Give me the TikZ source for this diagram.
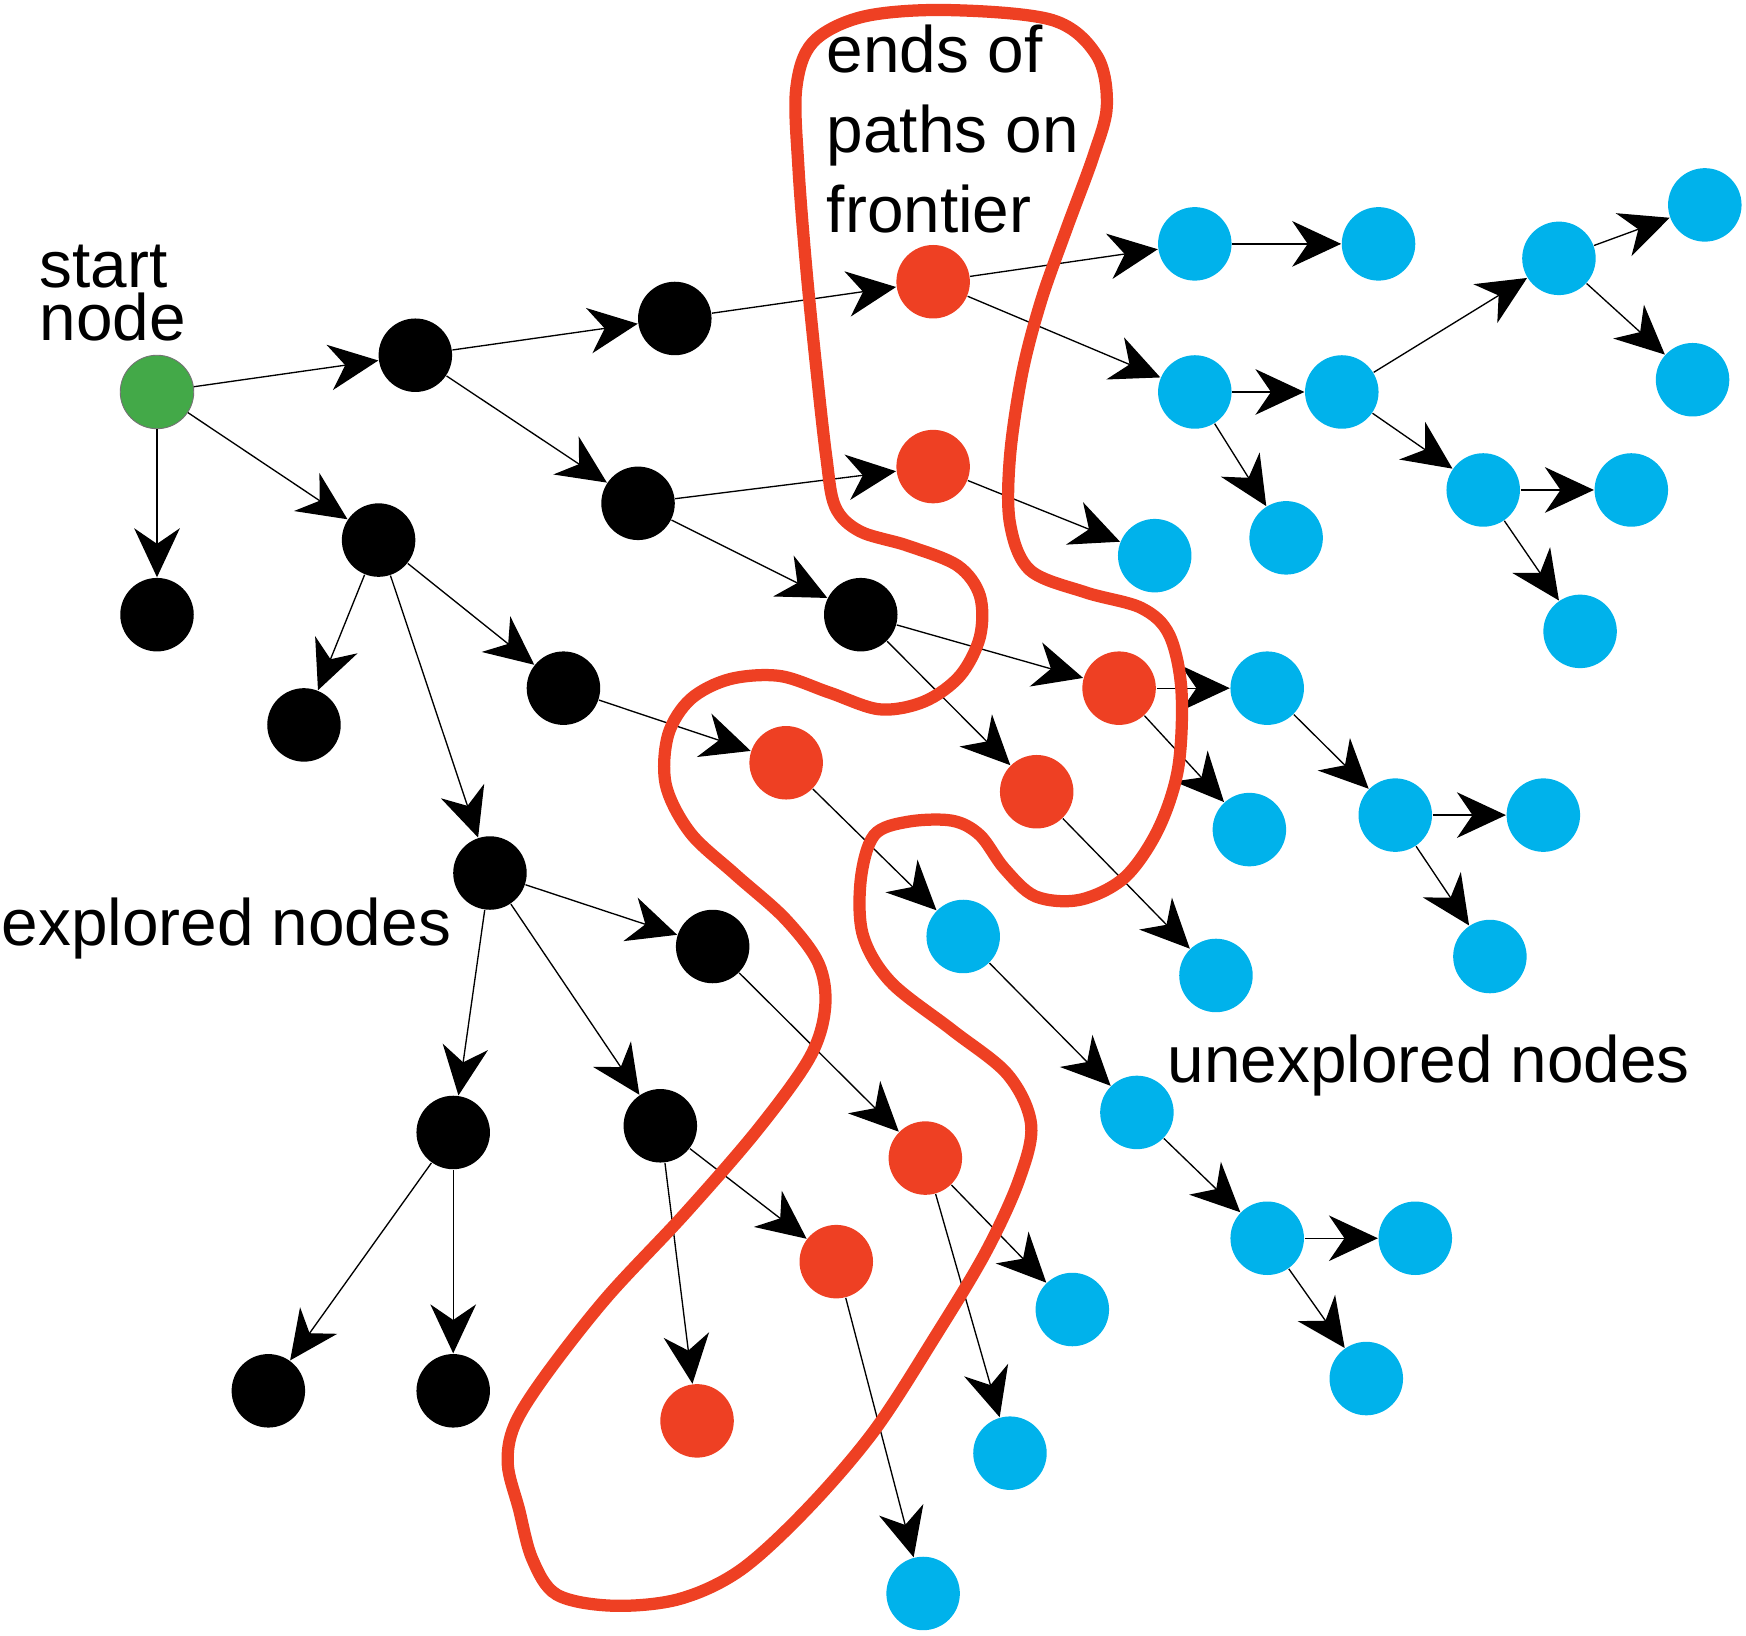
\documentclass[tikz,border=0pt]{standalone}
\usepackage{fontspec}
\setmainfont{Liberation Sans}
\usetikzlibrary{arrows.meta}

\definecolor{startgreen}{RGB}{67,169,72}
\definecolor{frontred}{RGB}{238,64,35}
\definecolor{openblue}{RGB}{0,178,235}

\tikzset{every picture/.style={line width=0.6pt}}

\begin{document}
\begin{tikzpicture}[x=0.5pt,y=0.5pt,yscale=-1,
  dot/.style={circle,minimum size=33pt,inner sep=0pt,draw=none},
  startdot/.style={dot,fill=startgreen,draw=black!55,line width=0.4pt},
  donedot/.style={dot,fill=black},
  enddot/.style={dot,fill=frontred},
  opendot/.style={dot,fill=openblue},
  link/.style={-{Stealth[length=22pt,width=20.5pt,inset=7pt]}},
  frontier/.style={draw=frontred,line width=5.5pt},
  lbl/.style={inner sep=0pt,align=left,font=\fontsize{29.5}{24}\selectfont}]
\useasboundingbox (0,0) rectangle (1568,1469);

%Shape: Circle  start node
\node[startdot] (s) at (141,352) {};
%Shape: Circle  explored nodes
\node[donedot] (e1) at (373,319) {};
\node[donedot] (e2) at (606,286) {};
\node[donedot] (e3) at (141,552) {};
\node[donedot] (e4) at (340,485) {};
\node[donedot] (e5) at (573,452) {};
\node[donedot] (e6) at (273,651) {};
\node[donedot] (e7) at (506,618) {};
\node[donedot] (e8) at (773,552) {};
\node[donedot] (e9) at (440,784) {};
\node[donedot] (e10) at (640,850) {};
\node[donedot] (e11) at (407,1017) {};
\node[donedot] (e12) at (593,1011) {};
\node[donedot] (e13) at (241,1249) {};
\node[donedot] (e14) at (407,1249) {};
%Shape: Circle  ends of paths
\node[enddot] (f1) at (838,253) {};
\node[enddot] (f2) at (838,419) {};
\node[enddot] (f3) at (1005,618) {};
\node[enddot] (f4) at (706,685) {};
\node[enddot] (f5) at (931,711) {};
\node[enddot] (f6) at (831,1040) {};
\node[enddot] (f7) at (751,1133) {};
\node[enddot] (f8) at (626,1276) {};
%Shape: Circle  unexplored nodes
\node[opendot] (u1) at (1073,219) {};
\node[opendot] (u2) at (1238,219) {};
\node[opendot] (u3) at (1073,352) {};
\node[opendot] (u4) at (1205,352) {};
\node[opendot] (u5) at (1400,232) {};
\node[opendot] (u6) at (1531,184) {};
\node[opendot] (u7) at (1520,341) {};
\node[opendot] (u8) at (1332,440) {};
\node[opendot] (u9) at (1465,440) {};
\node[opendot] (u10) at (1419,567) {};
\node[opendot] (u11) at (1155,483) {};
\node[opendot] (u12) at (1037,499) {};
\node[opendot] (u13) at (1138,618) {};
\node[opendot] (u14) at (1253,732) {};
\node[opendot] (u15) at (1386,732) {};
\node[opendot] (u16) at (1338,859) {};
\node[opendot] (u17) at (1122,745) {};
\node[opendot] (u18) at (1092,876) {};
\node[opendot] (u19) at (865,841) {};
\node[opendot] (u20) at (1021,999) {};
\node[opendot] (u21) at (1138,1112) {};
\node[opendot] (u22) at (1271,1112) {};
\node[opendot] (u23) at (1227,1238) {};
\node[opendot] (u24) at (963,1176) {};
\node[opendot] (u25) at (907,1305) {};
\node[opendot] (u26) at (829,1431) {};

%Straight Lines  from the start
\draw[link] (s) -- (e1);
\draw[link] (s) -- (e3);
\draw[link] (s) -- (e4);
%Straight Lines  upper branch
\draw[link] (e1) -- (e2);
\draw[link] (e1) -- (e5);
\draw[link] (e2) -- (f1);
\draw[link] (f1) -- (u1);
\draw[link] (f1) -- (u3);
\draw[link] (u1) -- (u2);
\draw[link] (u3) -- (u4);
\draw[link] (u3) -- (u11);
\draw[link] (u4) -- (u5);
\draw[link] (u4) -- (u8);
\draw[link] (u5) -- (u6);
\draw[link] (u5) -- (u7);
\draw[link] (u8) -- (u9);
\draw[link] (u8) -- (u10);
%Straight Lines  middle branch
\draw[link] (e5) -- (f2);
\draw[link] (e5) -- (e8);
\draw[link] (f2) -- (u12);
\draw[link] (e8) -- (f3);
\draw[link] (e8) -- (f5);
\draw[link] (f3) -- (u13);
\draw[link] (f3) -- (u17);
\draw[link] (u13) -- (u14);
\draw[link] (u14) -- (u15);
\draw[link] (u14) -- (u16);
\draw[link] (f5) -- (u18);
%Straight Lines  lower branch
\draw[link] (e4) -- (e6);
\draw[link] (e4) -- (e7);
\draw[link] (e4) -- (e9);
\draw[link] (e7) -- (f4);
\draw[link] (f4) -- (u19);
\draw[link] (u19) -- (u20);
\draw[link] (u20) -- (u21);
\draw[link] (u21) -- (u22);
\draw[link] (u21) -- (u23);
\draw[link] (e9) -- (e10);
\draw[link] (e9) -- (e11);
\draw[link] (e9) -- (e12);
\draw[link] (e10) -- (f6);
\draw[link] (f6) -- (u24);
\draw[link] (f6) -- (u25);
\draw[link] (e12) -- (f7);
\draw[link] (e12) -- (f8);
\draw[link] (f7) -- (u26);
\draw[link] (e11) -- (e13);
\draw[link] (e11) -- (e14);

%Shape: Polygon Curved  the frontier
\draw[frontier] plot[smooth cycle,tension=0.55] coordinates {
  (850,9) (945,18) (985,50) (994,95) (982,140) (958,205) (935,270)
  (918,335) (907,410) (907,470) (925,512) (975,532) (1025,546)
  (1050,570) (1061,620) (1058,690) (1040,745) (1010,788) (970,808)
  (930,805) (902,780) (880,750) (855,737) (815,738) (785,750)
  (773,790) (775,840) (800,882) (855,925) (905,965) (926,1010)
  (915,1060) (885,1125) (840,1200) (785,1285) (725,1355) (665,1410)
  (610,1436) (550,1442) (500,1432) (478,1400) (466,1355) (456,1315)
  (462,1280) (490,1235) (545,1165) (615,1090) (680,1015) (727,950)
  (741,905) (735,865) (705,825) (660,785) (620,748) (598,705)
  (600,660) (620,628) (655,610) (700,607) (745,622) (790,637)
  (830,630) (862,607) (880,572) (880,535) (860,508) (815,490)
  (772,477) (750,455) (742,410) (733,330) (724,240) (717,150)
  (715,80) (730,38) (775,15)};

% Text Node
\node[lbl,anchor=base west] (startlbl) at (35,306) {start\\node};
% Text Node
\node[lbl,anchor=base west,font=\fontsize{29.5}{36}\selectfont] (endlbl) at (742,209) {ends of\\paths on\\frontier};
% Text Node
\node[lbl,anchor=base west] (donelbl) at (1,849) {explored nodes};
% Text Node
\node[lbl,anchor=base west] (openlbl) at (1048,972) {unexplored nodes};

\end{tikzpicture}
\end{document}
